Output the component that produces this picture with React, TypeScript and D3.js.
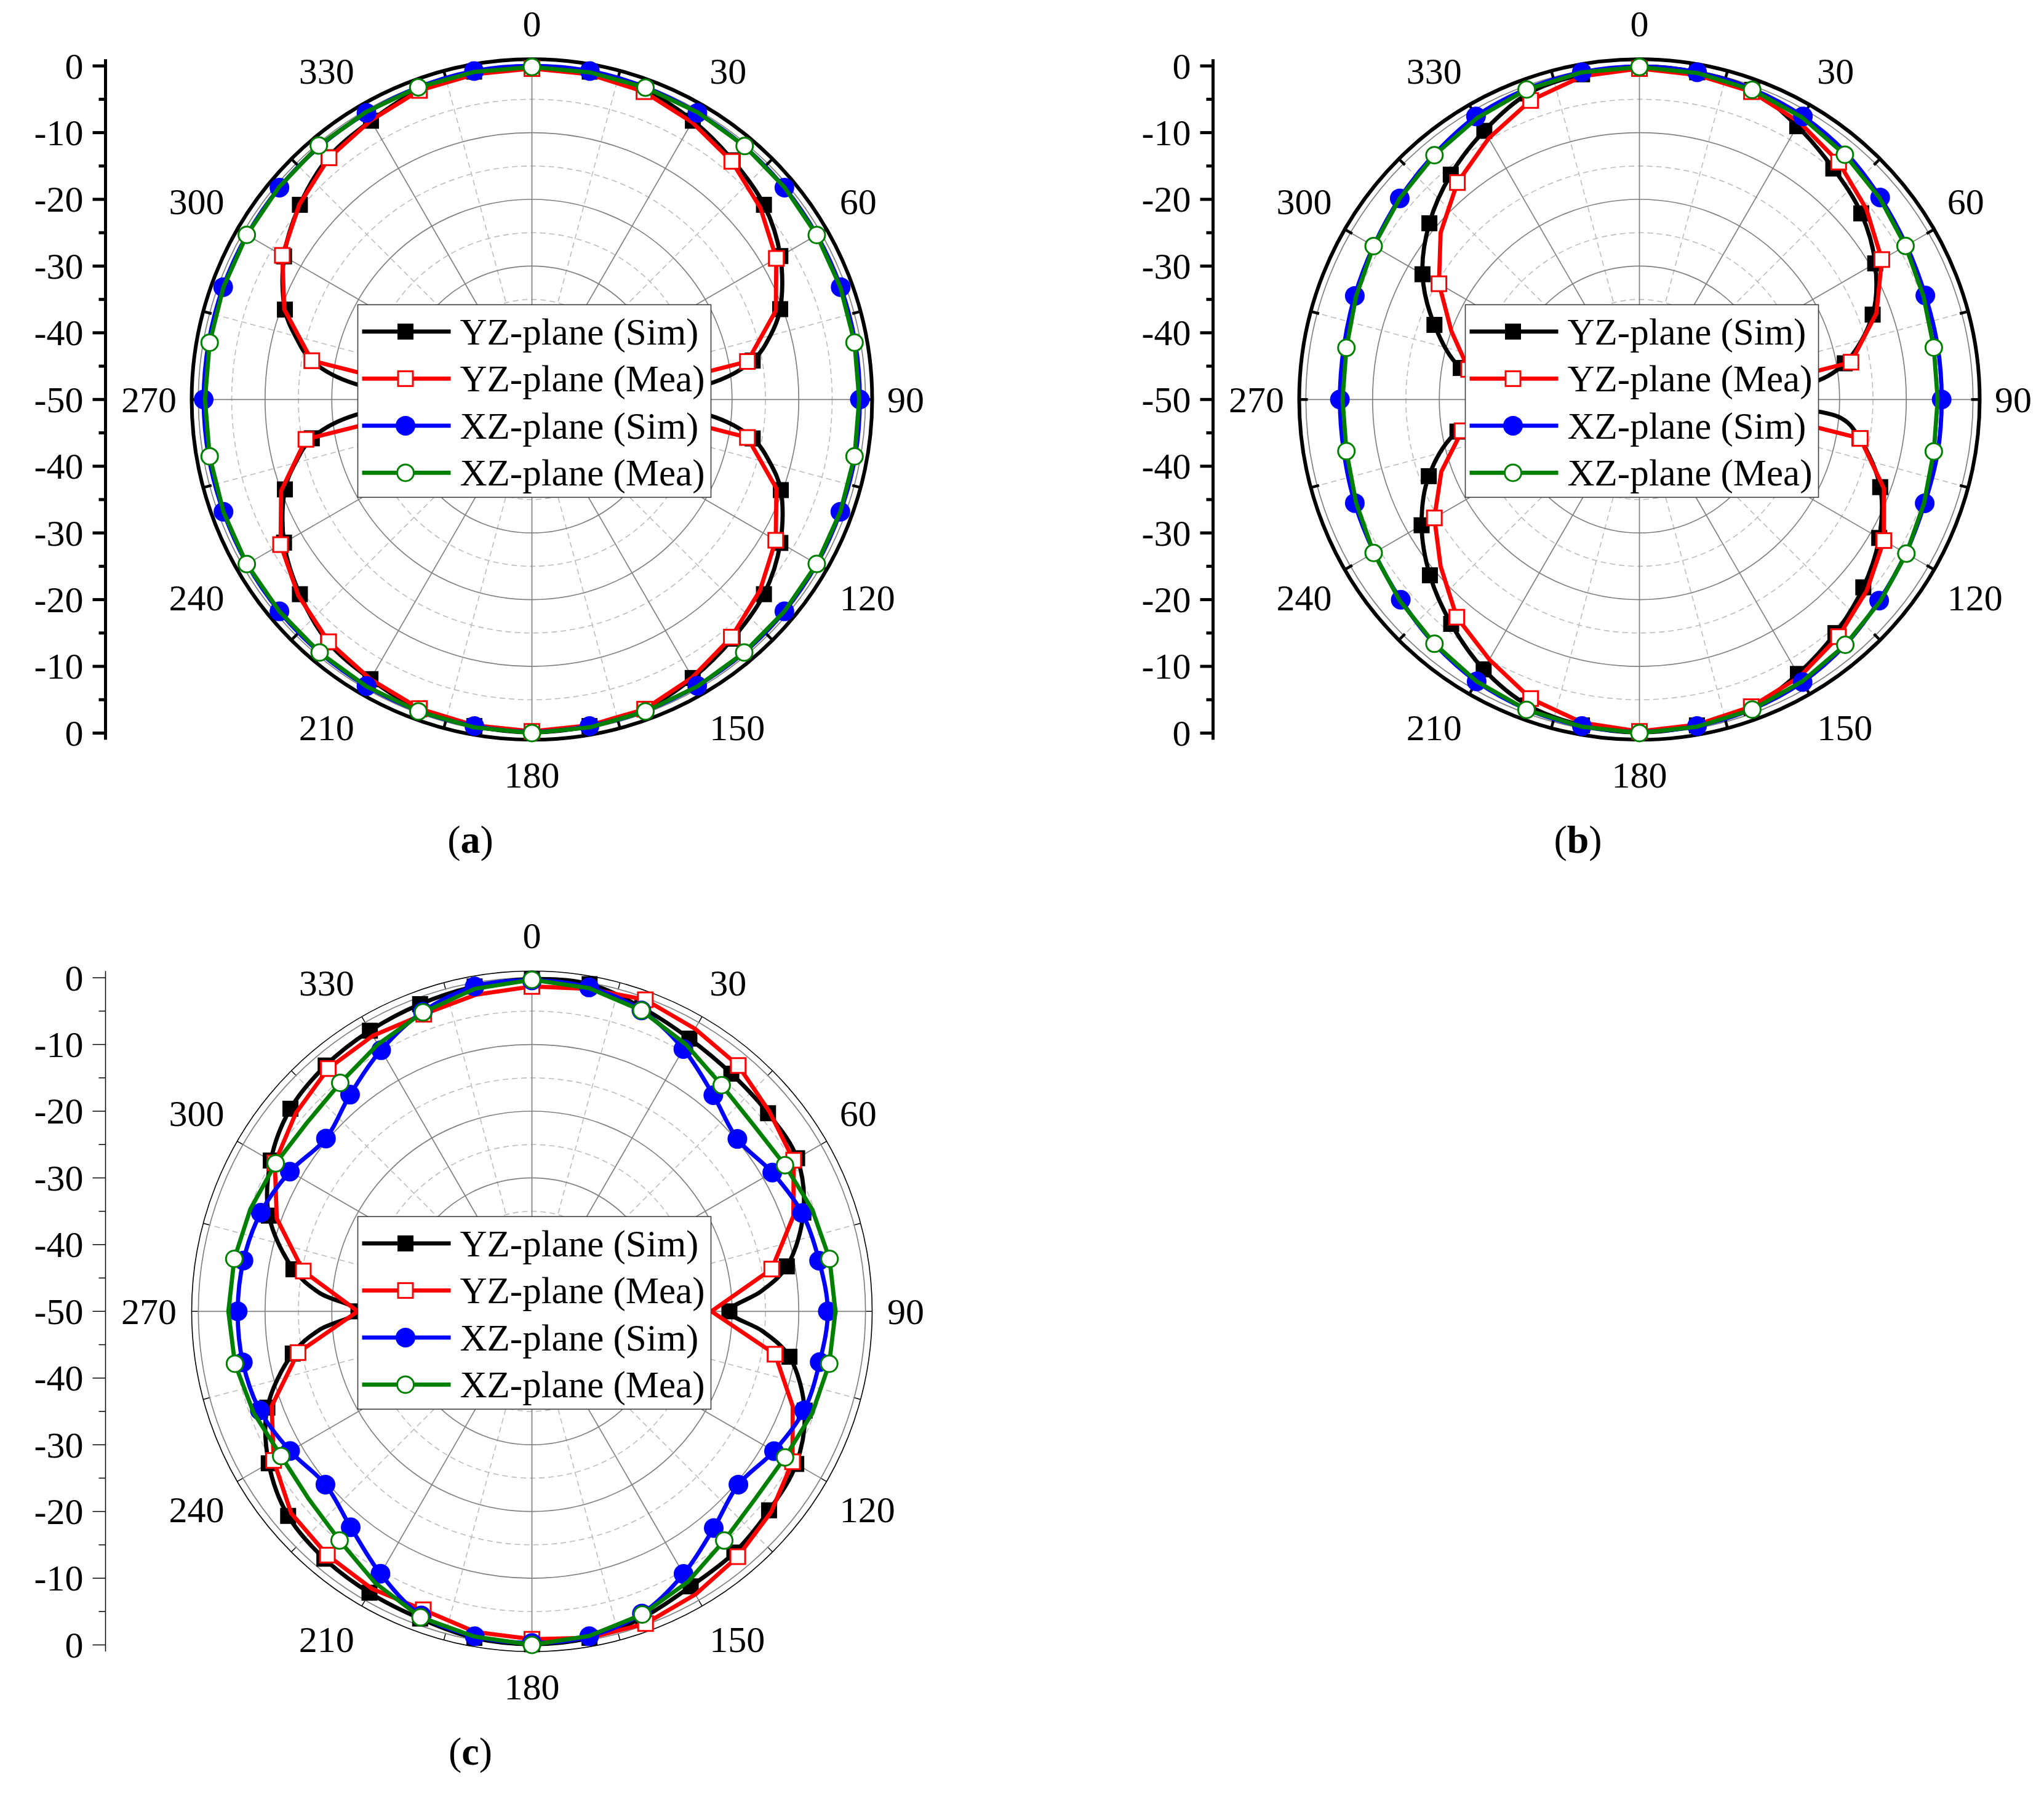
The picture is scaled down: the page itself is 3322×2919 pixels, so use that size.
import React, { useEffect, useRef } from 'react';
import * as d3 from 'd3';

type Pt = [number, number];

const W = 3322;
const H = 2919;

// angles of the measured / simulated samples (degrees, clockwise from top)
const ANGLES: number[] = d3.range(0, 360, 10);
const ANGLE_LABELS: string[] = ['0', '30', '60', '90', '120', '150', '180', '210', '240', '270', '300', '330'];
const AXIS_TICKS: number[] = [0, -10, -20, -30, -40, -50];
const LEGEND_LABELS: string[] = ['YZ-plane (Sim)', 'YZ-plane (Mea)', 'XZ-plane (Sim)', 'XZ-plane (Mea)'];

// ---- panel (a) ----
const A_YZ_SIM = [-0.1, -0.1, -0.6, -1.75, -3.2, -4.6, -7.0, -10.4, -16.4, -45, -16.4, -10.3, -7.0, -4.6, -3.2, -1.8, -0.6, -0.3,
  -0.1, -0.3, -0.6, -1.6, -2.5, -4.6, -7.1, -10.6, -16.5, -45, -16.5, -10.6, -7.1, -4.6, -2.6, -1.75, -0.6, -0.1];
const A_YZ_SIM_FINE: Pt[] = [[75, -13.0], [85, -23.5], [95, -23.5], [105, -13.0], [255, -13.3], [265, -23.5], [275, -23.5], [285, -13.3]];
const A_YZ_MEA = [-0.4, -0.5, -0.9, -2.0, -3.4, -5.3, -7.7, -11.1, -17.2, -40, -17.2, -11.0, -7.8, -5.4, -3.5, -1.9, -0.6, -0.4,
  -0.25, -0.4, -0.7, -1.6, -2.6, -4.3, -6.5, -10.0, -15.6, -40, -16.5, -10.5, -6.8, -4.5, -2.7, -1.7, -0.7, -0.5];
const A_XZ_SIM = [0, 0, -0.2, -0.4, -0.5, -0.6, -0.7, -0.75, -0.8, -0.85, -0.8, -0.8, -0.7, -0.6, -0.5, -0.45, -0.35, -0.3,
  -0.2, -0.3, -0.35, -0.4, -0.5, -0.6, -0.7, -0.8, -0.8, -0.8, -0.8, -0.75, -0.7, -0.6, -0.5, -0.4, -0.2, 0];
const A_XZ_MEA = [-0.15, -0.2, -0.25, -0.3, -0.4, -0.55, -0.7, -0.8, -0.9, -0.95, -0.9, -0.8, -0.7, -0.6, -0.5, -0.35, -0.25, -0.1,
  0, -0.1, -0.25, -0.35, -0.5, -0.6, -0.65, -0.8, -0.95, -1.0, -0.95, -0.8, -0.65, -0.5, -0.3, -0.25, -0.2, -0.15];

// ---- panel (b) ----
const B_YZ_SIM = [-0.1, -0.2, -0.6, -2.7, -4.8, -6.6, -9.2, -12.8, -18.75, -45, -16.5, -11.6, -8.5, -6.2, -4.3, -2.5, -0.8, -0.4,
  -0.1, -0.4, -1.2, -3.3, -6.1, -9.0, -12.3, -16.4, -22.3, -45, -22.8, -17.3, -12.45, -8.9, -6.0, -3.5, -1.2, -0.5];
const B_YZ_SIM_FINE: Pt[] = [[85, -25], [95, -20], [265, -30], [275, -30]];
const B_YZ_MEA = [-0.4, -0.6, -0.9, -2.0, -3.55, -5.6, -8.05, -12.2, -17.8, -40, -16.4, -11.0, -7.7, -5.5, -3.6, -2.0, -1.0, -0.5,
  -0.25, -0.8, -2.3, -5.0, -7.4, -11.1, -14.5, -18.4, -23, -40, -24, -20, -15.3, -11.1, -7.55, -4.8, -2.3, -0.8];
const B_XZ_SIM = [-0.1, -0.2, -0.5, -1.0, -1.8, -2.9, -3.8, -4.4, -4.6, -4.7, -4.6, -4.5, -3.9, -3.1, -2.0, -1.1, -0.6, -0.3,
  -0.2, -0.3, -0.6, -1.2, -2.2, -3.3, -4.1, -4.6, -5.0, -5.1, -5.0, -4.6, -4.0, -3.1, -2.1, -1.0, -0.5, -0.2];
const B_XZ_MEA = [-0.15, -0.3, -0.6, -1.2, -2.1, -3.0, -3.95, -4.7, -5.2, -5.3, -5.2, -4.6, -3.8, -2.9, -2.0, -1.2, -0.55, -0.2,
  0, -0.2, -0.5, -1.2, -2.2, -3.1, -4.0, -4.8, -5.4, -5.5, -5.4, -4.8, -4.0, -3.1, -2.2, -1.3, -0.55, -0.2];

// ---- panel (c) ----
const C_YZ_SIM = [-0.2, -0.2, -1.6, -2.8, -3.5, -3.8, -4.1, -6.7, -11.2, -20.4, -10.8, -6.5, -4.25, -3.6, -2.8, -2.4, -1.2, -0.3,
  -0.1, -0.3, -1.0, -1.3, -1.6, -2.3, -4.45, -7.8, -13.6, -24, -13.7, -8.05, -4.8, -2.75, -1.9, -1.43, -1.0, -0.55];
const C_YZ_SIM_FINE: Pt[] = [[85, -15.5], [95, -15.2], [265, -18], [275, -18]];
const C_YZ_MEA = [-1.3, -0.9, -0.3, -1.1, -1.9, -3.5, -4.7, -8.3, -13.5, -23.1, -13.0, -8.4, -4.9, -3.2, -2.0, -1.0, -0.2, -0.3,
  -0.85, -1.2, -2.4, -2.0, -2.3, -2.9, -5.3, -8.5, -14.4, -23.9, -15.2, -9.3, -5.5, -3.8, -2.5, -2.3, -2.6, -1.8];
const C_XZ_SIM = [-0.4, -0.7, -2.0, -4.6, -7.7, -9.8, -8.4, -6.9, -6.3, -5.65, -6.2, -6.6, -8.1, -9.6, -7.6, -4.55, -1.8, -0.55,
  -0.3, -0.55, -1.5, -4.6, -7.75, -9.6, -8.15, -6.6, -6.0, -5.9, -6.1, -6.75, -8.1, -9.7, -7.6, -4.8, -2.2, -0.55];
const C_XZ_MEA = [-0.3, -0.8, -2.0, -3.8, -5.75, -6.6, -6.2, -5.3, -4.7, -4.5, -4.75, -5.3, -6.2, -6.3, -5.15, -3.2, -1.65, -0.6,
  0, -0.5, -1.2, -3.0, -5.15, -6.3, -6.6, -5.6, -4.8, -4.5, -4.7, -5.1, -5.65, -6.0, -5.3, -3.8, -2.3, -0.9];

type Kind = 'yzSim' | 'yzMea' | 'xzSim' | 'xzMea';

interface Series {
  kind: Kind;
  values: number[];
  fine?: Pt[];
  markAt: (a: number) => boolean;
}

interface Panel {
  tag: string;
  cx: number;
  cy: number;
  heavy: boolean;
  series: Series[];
}

const COLORS: Record<Kind, string> = {
  yzSim: '#000000',
  yzMea: '#FF0000',
  xzSim: '#0000FF',
  xzMea: '#008000',
};
const KINDS: Kind[] = ['yzSim', 'yzMea', 'xzSim', 'xzMea'];

const every10 = (a: number) => a % 10 === 0;
const every20 = (a: number) => a % 20 === 0;
const odd20 = (a: number) => (a + 10) % 20 === 0;

const PANELS: Panel[] = [
  {
    tag: 'a', cx: 864.5, cy: 649.3, heavy: true,
    series: [
      { kind: 'yzSim', values: A_YZ_SIM, fine: A_YZ_SIM_FINE, markAt: every10 },
      { kind: 'yzMea', values: A_YZ_MEA, markAt: every20 },
      { kind: 'xzSim', values: A_XZ_SIM, markAt: odd20 },
      { kind: 'xzMea', values: A_XZ_MEA, markAt: every20 },
    ],
  },
  {
    tag: 'b', cx: 2664.5, cy: 649.3, heavy: true,
    series: [
      { kind: 'yzSim', values: B_YZ_SIM, fine: B_YZ_SIM_FINE, markAt: every10 },
      { kind: 'yzMea', values: B_YZ_MEA, markAt: every20 },
      { kind: 'xzSim', values: B_XZ_SIM, markAt: odd20 },
      { kind: 'xzMea', values: B_XZ_MEA, markAt: every20 },
    ],
  },
  {
    tag: 'c', cx: 864.5, cy: 2131.3, heavy: false,
    series: [
      { kind: 'yzSim', values: C_YZ_SIM, fine: C_YZ_SIM_FINE, markAt: every10 },
      { kind: 'yzMea', values: C_YZ_MEA, markAt: every20 },
      { kind: 'xzSim', values: C_XZ_SIM, markAt: every10 },
      { kind: 'xzMea', values: C_XZ_MEA, markAt: every20 },
    ],
  },
];

const FONT = "'Liberation Serif', 'Times New Roman', serif";
const LINE_W = 6.8;
const rad = (a: number) => (a * Math.PI) / 180;

function drawMarker(g: any, x: number, y: number, kind: Kind) {
  if (kind === 'yzSim') {
    g.append('rect').attr('x', x - 13).attr('y', y - 13).attr('width', 26).attr('height', 26).attr('fill', COLORS.yzSim);
  } else if (kind === 'yzMea') {
    g.append('rect').attr('x', x - 12).attr('y', y - 12).attr('width', 24).attr('height', 24)
      .attr('fill', '#fff').attr('stroke', COLORS.yzMea).attr('stroke-width', 3);
  } else if (kind === 'xzSim') {
    g.append('circle').attr('cx', x).attr('cy', y).attr('r', 16).attr('fill', COLORS.xzSim);
  } else {
    g.append('circle').attr('cx', x).attr('cy', y).attr('r', 13.5)
      .attr('fill', '#fff').attr('stroke', COLORS.xzMea).attr('stroke-width', 3);
  }
}

function drawPanel(svg: any, p: Panel) {
  const r = d3.scaleLinear().domain([-50, 1]).range([0, 553]);
  const rOut = r(1);
  const r0 = r(0);
  const g = svg.append('g').attr('transform', `translate(${p.cx},${p.cy})`);
  const frameW = p.heavy ? 6 : 1.6;

  // minor grid (dashed)
  g.selectAll('.minor-ring')
    .data([-45, -35, -25, -15, -5])
    .enter()
    .append('circle')
    .attr('r', (d: number) => r(d))
    .attr('fill', 'none')
    .attr('stroke', '#bdbdbd')
    .attr('stroke-width', 1.6)
    .attr('stroke-dasharray', '9,6');
  g.selectAll('.minor-spoke')
    .data(d3.range(15, 360, 30))
    .enter()
    .append('line')
    .attr('x1', 0).attr('y1', 0)
    .attr('x2', (a: number) => r0 * Math.sin(rad(a)))
    .attr('y2', (a: number) => -r0 * Math.cos(rad(a)))
    .attr('stroke', '#bdbdbd')
    .attr('stroke-width', 1.6)
    .attr('stroke-dasharray', '9,6');

  // major grid
  g.selectAll('.major-ring')
    .data([-40, -30, -20, -10, 0])
    .enter()
    .append('circle')
    .attr('r', (d: number) => r(d))
    .attr('fill', 'none')
    .attr('stroke', '#808080')
    .attr('stroke-width', 1.7);
  g.selectAll('.major-spoke')
    .data(d3.range(0, 360, 30))
    .enter()
    .append('line')
    .attr('x1', 0).attr('y1', 0)
    .attr('x2', (a: number) => r0 * Math.sin(rad(a)))
    .attr('y2', (a: number) => -r0 * Math.cos(rad(a)))
    .attr('stroke', '#808080')
    .attr('stroke-width', 1.7);

  // outer frame + angular ticks
  g.append('circle').attr('r', rOut).attr('fill', 'none').attr('stroke', '#000').attr('stroke-width', frameW);
  const tickLen = p.heavy ? 14 : 10;
  g.selectAll('.ang-tick')
    .data(d3.range(0, 360, 15))
    .enter()
    .append('line')
    .attr('x1', (a: number) => rOut * Math.sin(rad(a)))
    .attr('y1', (a: number) => -rOut * Math.cos(rad(a)))
    .attr('x2', (a: number) => (rOut - tickLen) * Math.sin(rad(a)))
    .attr('y2', (a: number) => -(rOut - tickLen) * Math.cos(rad(a)))
    .attr('stroke', '#000')
    .attr('stroke-width', p.heavy ? 4.5 : 1.5);

  // data
  p.series.forEach((s) => {
    const pts: Pt[] = ANGLES.map((a, i) => [a, s.values[i]] as Pt)
      .concat(s.fine || [])
      .sort((u, v) => u[0] - v[0]);
    const smooth = s.kind === 'yzSim' || s.kind === 'xzSim';
    const line = d3
      .lineRadial<Pt>()
      .angle((d) => rad(d[0]))
      .radius((d) => r(d[1]))
      .curve(smooth ? d3.curveCatmullRomClosed.alpha(0.5) : d3.curveLinearClosed);
    g.append('path')
      .attr('d', line(pts))
      .attr('fill', 'none')
      .attr('stroke', COLORS[s.kind])
      .attr('stroke-width', LINE_W)
      .attr('stroke-linejoin', 'round');
    const mg = g.append('g');
    ANGLES.forEach((a, i) => {
      if (!s.markAt(a)) return;
      const rr = r(s.values[i]);
      drawMarker(mg, rr * Math.sin(rad(a)), -rr * Math.cos(rad(a)), s.kind);
    });
  });

  // legend
  const lg = g.append('g');
  lg.append('rect')
    .attr('x', -283).attr('y', -154)
    .attr('width', 574).attr('height', 313)
    .attr('fill', '#fff')
    .attr('stroke', '#3c3c3c')
    .attr('stroke-width', 1.6);
  KINDS.forEach((k, i) => {
    const y = -110.4 + i * 76.5;
    lg.append('line').attr('x1', -276).attr('x2', -132).attr('y1', y).attr('y2', y)
      .attr('stroke', COLORS[k]).attr('stroke-width', LINE_W);
    drawMarker(lg, -205.5, y, k);
    lg.append('text')
      .attr('x', -117).attr('y', y).attr('dy', '0.34em')
      .attr('font-family', FONT).attr('font-size', 61)
      .attr('fill', '#000')
      .text(LEGEND_LABELS[i]);
  });

  // angle labels: the label box corner nearest the centre sits just outside the frame
  const labelR = rOut + 24.5;
  const halfH = 33.2;
  ANGLE_LABELS.forEach((lab, i) => {
    const a = i * 30;
    const s = Math.sin(rad(a));
    const c = Math.cos(rad(a));
    const sx = Math.abs(s) < 1e-6 ? 0 : Math.sign(s);
    const sy = Math.abs(c) < 1e-6 ? 0 : Math.sign(c);
    const halfW = lab.length * 15;
    g.append('text')
      .attr('x', labelR * s + sx * halfW)
      .attr('y', -labelR * c - sy * halfH)
      .attr('dy', '0.34em')
      .attr('text-anchor', 'middle')
      .attr('font-family', FONT)
      .attr('font-size', 60)
      .attr('fill', '#000')
      .text(lab);
  });

  // radial (left) axis, 0 at top and bottom, -50 at centre
  const ax = -693;
  const axW = p.heavy ? 5 : 1.5;
  g.append('line').attr('x1', ax).attr('x2', ax).attr('y1', -rOut).attr('y2', rOut)
    .attr('stroke', '#000').attr('stroke-width', axW);
  [-1, 1].forEach((side) => {
    AXIS_TICKS.forEach((v) => {
      if (side === 1 && v === -50) return;
      const y = side * r(v);
      g.append('line').attr('x1', ax - 21).attr('x2', ax).attr('y1', y).attr('y2', y)
        .attr('stroke', '#000').attr('stroke-width', axW);
      g.append('text')
        .attr('x', ax - 36).attr('y', y).attr('dy', '0.34em')
        .attr('text-anchor', 'end')
        .attr('font-family', FONT).attr('font-size', 60)
        .attr('fill', '#000')
        .text(String(v));
    });
    [-45, -35, -25, -15, -5].forEach((v) => {
      const y = side * r(v);
      g.append('line').attr('x1', ax - 11).attr('x2', ax).attr('y1', y).attr('y2', y)
        .attr('stroke', '#000').attr('stroke-width', axW);
    });
  });

  // panel caption
  const cap = g.append('text')
    .attr('x', -100).attr('y', 737)
    .attr('text-anchor', 'middle')
    .attr('font-family', FONT).attr('font-size', 64)
    .attr('fill', '#000');
  cap.append('tspan').text('(');
  cap.append('tspan').attr('font-weight', 'bold').text(p.tag);
  cap.append('tspan').text(')');
}

const App: React.FC = () => {
  const ref = useRef<SVGSVGElement | null>(null);

  useEffect(() => {
    if (!ref.current) return;
    const svg = d3.select(ref.current);
    svg.selectAll('*').remove();
    svg.append('rect').attr('width', W).attr('height', H).attr('fill', '#fff');
    PANELS.forEach((p) => drawPanel(svg, p));
  }, []);

  return (
    <svg
      ref={ref}
      width={W}
      height={H}
      style={{ position: 'absolute', left: 0, top: 0, background: '#fff' }}
    />
  );
};

export default App;
